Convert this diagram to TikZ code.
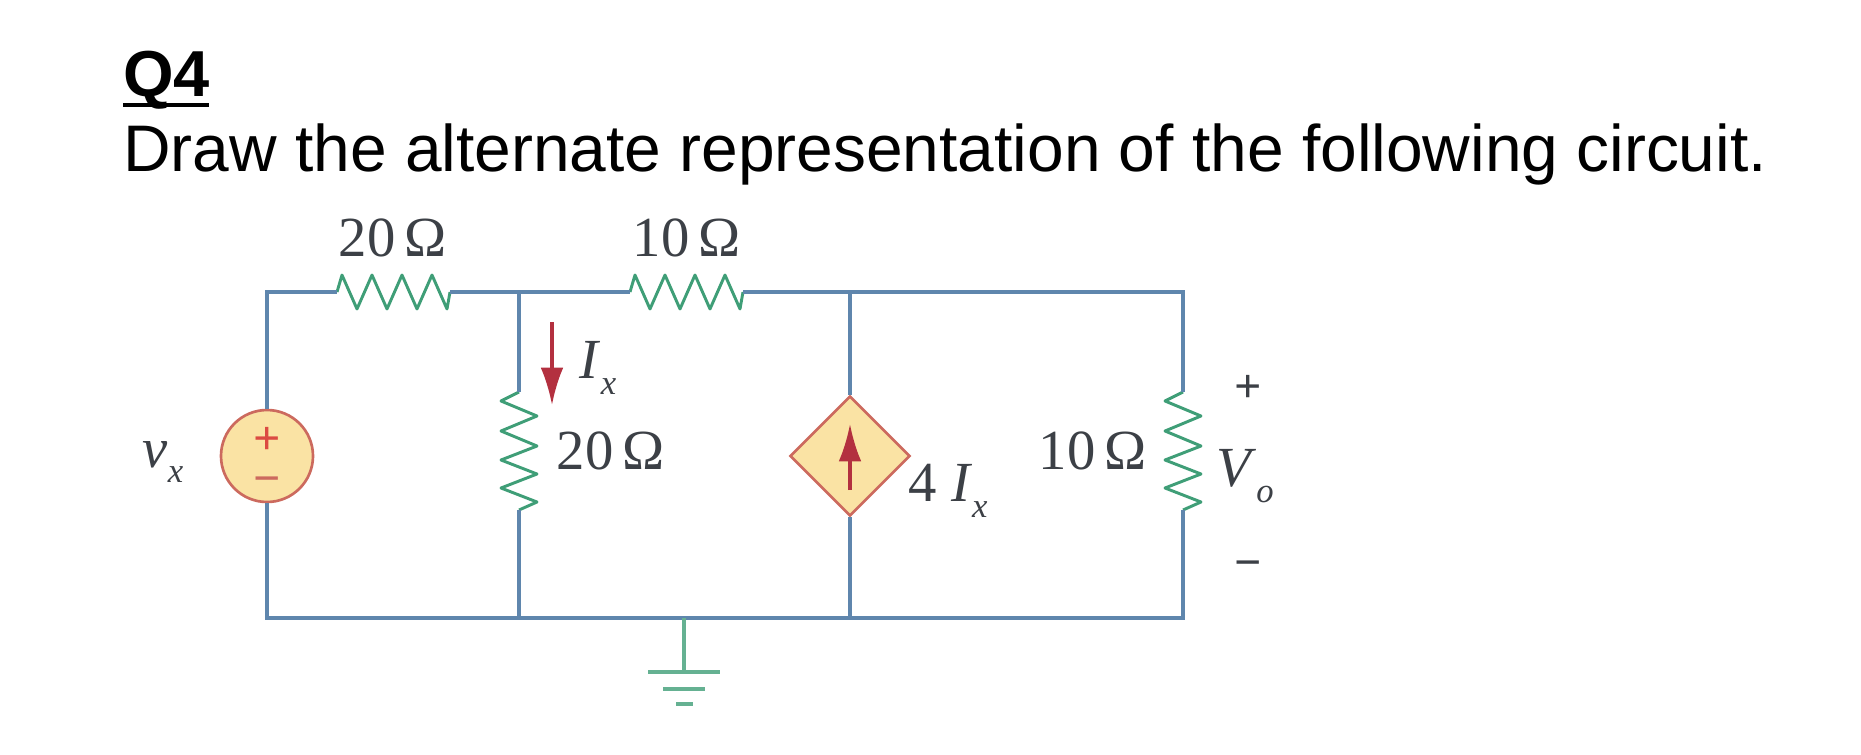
\documentclass[tikz,border=0pt]{standalone}
\usepackage{fontspec}
\setmainfont{Liberation Sans}
\newfontfamily\circfont{Liberation Serif}
\usepackage{xcolor}
\usetikzlibrary{shapes.geometric,arrows.meta,positioning,calc}

\definecolor{wirecol}{HTML}{5F86AD}
\definecolor{rescol}{HTML}{3F9E77}
\definecolor{srcfill}{HTML}{FAE3A4}
\definecolor{srcline}{HTML}{CC6A5E}
\definecolor{arrowcol}{HTML}{B3303F}
\definecolor{valcol}{HTML}{3C4046}

\newcommand{\subx}[1]{\raisebox{-.28em}{\fontsize{26}{26}\selectfont\textit{#1}}}

\tikzset{
  wire/.style = {draw=wirecol, line width=2.6pt},
  resline/.style = {draw=rescol, line width=2.2pt, line join=round},
  gndline/.style = {draw=rescol!80, line width=3pt},
  title/.style = {anchor=base west, inner sep=0pt, font=\fontsize{49.4}{50}\selectfont},
  val/.style = {inner sep=0pt, text=valcol, font=\circfont\fontsize{42.5}{42.5}\selectfont},
  sign/.style = {inner sep=0pt, text=valcol, font=\circfont\bfseries\fontsize{36}{36}\selectfont},
  cur/.style = {draw=arrowcol, line width=2.4pt, -{Latex[length=28pt,width=17pt]}},
  hres/.pic = {\path[resline] (0,0) -- (5,-17) -- (20,17) -- (35,-17) -- (50,17) -- (65,-17) -- (80,17) -- (95,-17) -- (110,17) -- (113,0);},
  vres/.pic = {\path[resline] (0,0) -- (-18,9) -- (18,24) -- (-18,39) -- (18,54) -- (-18,68) -- (18,82) -- (-18,96) -- (18,110) -- (0,118);}
}

\begin{document}
\begin{tikzpicture}[x=0.75pt, y=-0.75pt]
  \useasboundingbox (0,0) rectangle (1861,754);

  % heading
  \node[title, font=\bfseries\fontsize{48.75}{50}\selectfont] (head) at (123,96) {Q4};
  \node[title] (task) at (123,171) {Draw the alternate representation of the following circuit.};
  \coordinate (ula) at (123,105);
  \coordinate (ulb) at (209,105);
  \draw[line width=3pt] (ula) -- (ulb);

  % junctions
  \coordinate (tl) at (267,292);
  \coordinate (n1) at (519,292);
  \coordinate (n2) at (850,292);
  \coordinate (tr) at (1183,292);
  \coordinate (bl) at (267,618);
  \coordinate (n3) at (519,618);
  \coordinate (n4) at (850,618);
  \coordinate (n5) at (684,618);
  \coordinate (br) at (1183,618);

  % sources
  \node[circle, draw=srcline, fill=srcfill, line width=2pt, minimum size=69pt, inner sep=0pt] (vsrc) at (267,456) {};
  \node[diamond, aspect=1, draw=srcline, fill=srcfill, line width=2pt, minimum size=90pt, inner sep=0pt] (isrc) at (850,456) {};

  % resistors
  \coordinate (r1a) at (337,292);
  \coordinate (r1b) at (450,292);
  \coordinate (r2a) at (630,292);
  \coordinate (r2b) at (743,292);
  \coordinate (r3a) at (519,392);
  \coordinate (r3b) at (519,510);
  \coordinate (r4a) at (1183,392);
  \coordinate (r4b) at (1183,510);
  \pic at (r1a) {hres};
  \pic at (r2a) {hres};
  \pic at (r3a) {vres};
  \pic at (r4a) {vres};

  % wires
  \draw[wire] (vsrc) -- (tl) -- (r1a);
  \draw[wire] (r1b) -- (n1) -- (r2a);
  \draw[wire] (r2b) -- (n2) -- (tr) -- (r4a);
  \draw[wire] (vsrc) -- (bl) -- (br) -- (r4b);
  \draw[wire] (n1) -- (r3a);
  \draw[wire] (r3b) -- (n3);
  \draw[wire] (n2) -- (isrc);
  \draw[wire] (isrc) -- (n4);

  % ground
  \coordinate (g0) at (684,672);
  \coordinate (g1l) at (648,672);
  \coordinate (g1r) at (720,672);
  \coordinate (g2l) at (663,689);
  \coordinate (g2r) at (705,689);
  \coordinate (g3l) at (676,704);
  \coordinate (g3r) at (693,704);
  \draw[gndline] (n5) -- (g0);
  \draw[gndline] (g1l) -- (g1r);
  \draw[gndline] (g2l) -- (g2r);
  \draw[gndline] (g3l) -- (g3r);

  % current arrows
  \coordinate (ia) at (552,322);
  \coordinate (ib) at (552,405);
  \coordinate (ja) at (850,490);
  \coordinate (jb) at (850,424);
  \draw[cur] (ia) -- (ib);
  \draw[cur] (ja) -- (jb);

  % signs of the source
  \node[sign, text=srcline!70!red] (vp) at (267,441) {+};
  \node[sign, text=srcline] (vm) at (267,486) {−};

  % values
  \node[val] (l1) at (393,238) {20\,Ω};
  \node[val] (l2) at (687,238) {10\,Ω};
  \node[val] (l3) at (611,451) {20\,Ω};
  \node[val] (l4) at (1093,451) {10\,Ω};
  \node[val] (l5) at (598,368) {\textit{I}\subx{x}};
  \node[val] (l6) at (948,491) {4 \textit{I}\subx{x}};
  \node[val] (l7) at (163,462) {\textit{v}\subx{x}};
  \node[val] (l8) at (1245,476) {\textit{V}\subx{o}};
  \node[sign] (vop) at (1248,389) {+};
  \node[sign] (vom) at (1248,570) {−};
\end{tikzpicture}
\end{document}
